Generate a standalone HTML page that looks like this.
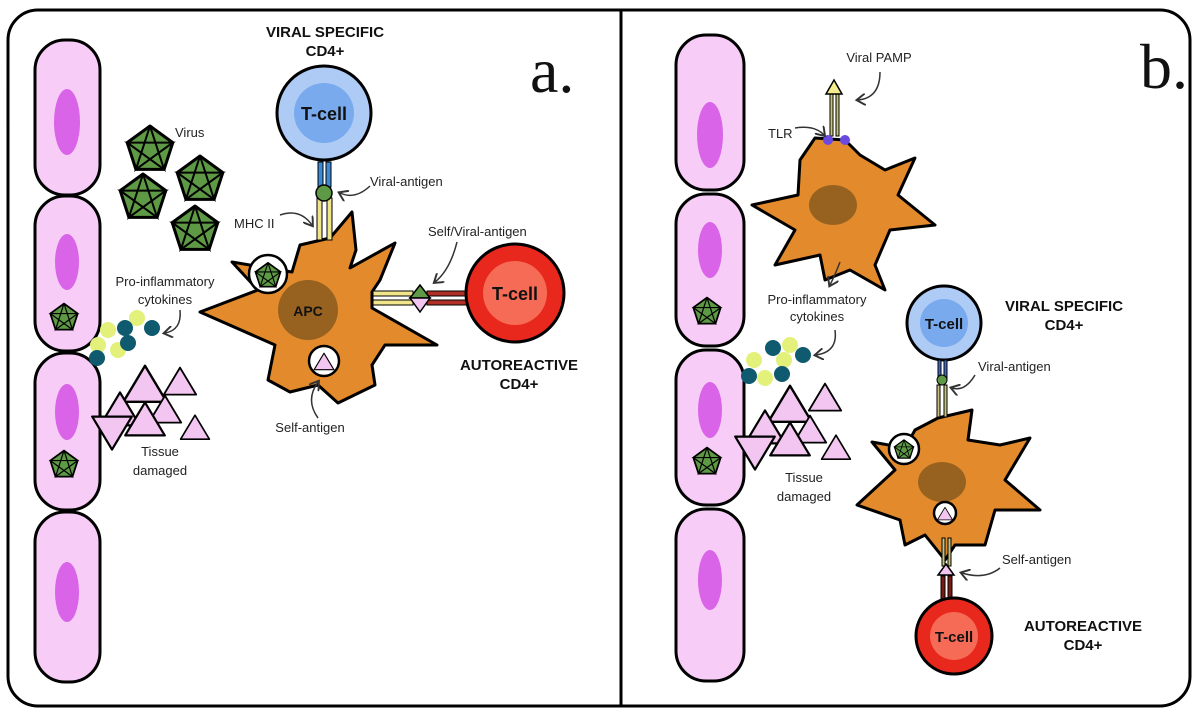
<!DOCTYPE html>
<html><head><meta charset="utf-8"><style>
html,body{margin:0;padding:0;background:#fff}
svg{display:block}
text{font-family:"Liberation Sans",sans-serif;fill:#222}
.lb{font-size:13px}
.bd{font-size:15px;font-weight:bold;fill:#111}
</style></head><body>
<svg width="1200" height="716" viewBox="0 0 1200 716" xmlns="http://www.w3.org/2000/svg">
<defs>
<g id="vir"><polygon points="0,-24 22.8,-7.4 14.1,19.4 -14.1,19.4 -22.8,-7.4" fill="#5e9a45" stroke="#000" stroke-width="3" stroke-linejoin="round"/>
<polyline points="0,-24 14.1,19.4 -22.8,-7.4 22.8,-7.4 -14.1,19.4 0,-24" fill="none" stroke="#000" stroke-width="2"/></g>
<polygon id="tri" points="0,-16 18,14 -18,14" fill="#f2c6f0" stroke="#000" stroke-width="2" stroke-linejoin="round"/>
<marker id="ah" markerWidth="8" markerHeight="8" refX="5" refY="4" orient="auto"><path d="M0,0 L6,4 L0,8" fill="none" stroke="#333" stroke-width="1.3"/></marker>
</defs>
<rect x="8" y="10" width="1182" height="696" rx="30" fill="#fff" stroke="#000" stroke-width="3"/>
<line x1="621" y1="10" x2="621" y2="706" stroke="#000" stroke-width="3"/>

<!-- panel a cells -->
<g fill="#f7cdf7" stroke="#000" stroke-width="3">
<rect x="35" y="40" width="65" height="155" rx="30"/>
<rect x="35" y="196" width="65" height="155" rx="30"/>
<rect x="35" y="353" width="65" height="157" rx="30"/>
<rect x="35" y="512" width="65" height="170" rx="30"/>
</g>
<g fill="#d964e8">
<ellipse cx="67" cy="122" rx="13" ry="33"/><ellipse cx="67" cy="262" rx="12" ry="28"/>
<ellipse cx="67" cy="412" rx="12" ry="28"/><ellipse cx="67" cy="592" rx="12" ry="30"/>
</g>
<use href="#vir" transform="translate(64,318) scale(0.6)"/>
<use href="#vir" transform="translate(64,465) scale(0.6)"/>
<!-- viruses -->
<use href="#vir" transform="translate(150,150)"/>
<use href="#vir" transform="translate(200,180)"/>
<use href="#vir" transform="translate(143,198)"/>
<use href="#vir" transform="translate(195,230)"/>
<text class="lb" x="175" y="137">Virus</text>

<!-- APC a -->
<polygon points="300,245 330,238 352,212 356,250 350,268 395,243 380,280 372,292 372,308 437,345 385,345 372,365 375,385 338,403 318,385 290,392 268,380 275,345 200,312 258,290 232,262 292,272" fill="#e38b2c" stroke="#000" stroke-width="3" stroke-linejoin="round"/>
<circle cx="308" cy="310" r="30" fill="#8a5a1f" opacity="0.85"/>
<text x="308" y="316" text-anchor="middle" style="font-size:14px;font-weight:bold;fill:#111">APC</text>
<circle cx="268" cy="274" r="19" fill="#fff" stroke="#000" stroke-width="2.5"/>
<use href="#vir" transform="translate(268,276) scale(0.55)"/>
<circle cx="324" cy="361" r="15" fill="#fff" stroke="#000" stroke-width="2.5"/>
<use href="#tri" transform="translate(324,362) scale(0.55)"/>

<!-- TCR a top -->
<rect x="318" y="162" width="5" height="25" fill="#3a8ad8" stroke="#000" stroke-width="1"/>
<rect x="326" y="162" width="5" height="25" fill="#3a8ad8" stroke="#000" stroke-width="1"/>
<rect x="317" y="198" width="5" height="42" fill="#f0e58a" stroke="#000" stroke-width="1"/>
<rect x="327" y="198" width="5" height="42" fill="#f0e58a" stroke="#000" stroke-width="1"/>
<circle cx="324" cy="193" r="8" fill="#5e9a45" stroke="#000" stroke-width="1.5"/>
<circle cx="324" cy="113" r="47" fill="#aecbf5" stroke="#000" stroke-width="3"/>
<circle cx="324" cy="113" r="30" fill="#7aaaee"/>
<text x="324" y="120" text-anchor="middle" style="font-size:18px;font-weight:bold;fill:#111">T-cell</text>
<text class="bd" x="325" y="37" text-anchor="middle">VIRAL SPECIFIC</text>
<text class="bd" x="325" y="56" text-anchor="middle">CD4+</text>
<text x="530" y="92" style="font-family:'Liberation Serif',serif;font-size:64px;fill:#111">a.</text>
<text class="lb" x="370" y="186">Viral-antigen</text>
<path d="M370,186 Q355,200 340,193" fill="none" stroke="#333" stroke-width="1.5" marker-end="url(#ah)"/>
<text class="lb" x="234" y="228">MHC II</text>
<path d="M280,215 Q300,208 312,225" fill="none" stroke="#333" stroke-width="1.5" marker-end="url(#ah)"/>

<!-- right MHC a -->
<rect x="373" y="291" width="40" height="5" fill="#f0e58a" stroke="#000" stroke-width="1"/>
<rect x="373" y="300" width="40" height="5" fill="#f0e58a" stroke="#000" stroke-width="1"/>
<rect x="427" y="291" width="45" height="5" fill="#b03028" stroke="#000" stroke-width="1"/>
<rect x="427" y="300" width="45" height="5" fill="#b03028" stroke="#000" stroke-width="1"/>
<polygon points="420,285 430,298 410,298" fill="#5e9a45" stroke="#000" stroke-width="1.5"/>
<polygon points="410,298 430,298 420,312" fill="#f2c6f0" stroke="#000" stroke-width="1.5"/>
<circle cx="515" cy="293" r="49" fill="#e8281c" stroke="#000" stroke-width="3"/>
<circle cx="515" cy="293" r="32" fill="#f66b55"/>
<text x="515" y="300" text-anchor="middle" style="font-size:18px;font-weight:bold;fill:#111">T-cell</text>
<text class="lb" x="428" y="236">Self/Viral-antigen</text>
<path d="M457,242 Q450,270 435,282" fill="none" stroke="#333" stroke-width="1.5" marker-end="url(#ah)"/>
<text class="bd" x="519" y="370" text-anchor="middle">AUTOREACTIVE</text>
<text class="bd" x="519" y="389" text-anchor="middle">CD4+</text>

<!-- cytokines a -->
<g stroke="none">
<circle cx="137" cy="318" r="8" fill="#e3f07a"/><circle cx="108" cy="330" r="8" fill="#e3f07a"/>
<circle cx="118" cy="350" r="8" fill="#e3f07a"/><circle cx="98" cy="345" r="8" fill="#e3f07a"/>
<circle cx="125" cy="328" r="8" fill="#0f5a6e"/><circle cx="152" cy="328" r="8" fill="#0f5a6e"/>
<circle cx="128" cy="343" r="8" fill="#0f5a6e"/><circle cx="97" cy="358" r="8" fill="#0f5a6e"/>
</g>
<text class="lb" x="165" y="286" text-anchor="middle">Pro-inflammatory</text>
<text class="lb" x="165" y="304" text-anchor="middle">cytokines</text>
<path d="M180,310 Q182,330 165,333" fill="none" stroke="#333" stroke-width="1.5" marker-end="url(#ah)"/>
<!-- triangles a -->
<use href="#tri" transform="translate(145,385) scale(1.2)"/>
<use href="#tri" transform="translate(180,382) scale(0.9)"/>
<use href="#tri" transform="translate(120,410) scale(1.1)"/>
<use href="#tri" transform="translate(165,410) scale(0.9)"/>
<use href="#tri" transform="translate(145,420) scale(1.1)"/>
<use href="#tri" transform="translate(195,428) scale(0.8)"/>
<use href="#tri" transform="translate(112,432) scale(1.1) rotate(180)"/>
<text class="lb" x="160" y="456" text-anchor="middle">Tissue</text>
<text class="lb" x="160" y="475" text-anchor="middle">damaged</text>
<text class="lb" x="310" y="432" text-anchor="middle">Self-antigen</text>
<path d="M318,418 Q305,400 318,382" fill="none" stroke="#333" stroke-width="1.5" marker-end="url(#ah)"/>

<!-- panel b cells -->
<g fill="#f7cdf7" stroke="#000" stroke-width="3">
<rect x="676" y="35" width="68" height="155" rx="30"/>
<rect x="676" y="194" width="68" height="152" rx="30"/>
<rect x="676" y="350" width="68" height="155" rx="30"/>
<rect x="676" y="509" width="68" height="172" rx="30"/>
</g>
<g fill="#d964e8">
<ellipse cx="710" cy="135" rx="13" ry="33"/><ellipse cx="710" cy="250" rx="12" ry="28"/>
<ellipse cx="710" cy="410" rx="12" ry="28"/><ellipse cx="710" cy="580" rx="12" ry="30"/>
</g>
<use href="#vir" transform="translate(707,312) scale(0.6)"/>
<use href="#vir" transform="translate(707,462) scale(0.6)"/>

<!-- APC b1 -->
<polygon points="800,160 815,138 845,140 860,155 885,170 915,158 898,195 935,225 890,230 875,265 885,290 850,270 825,280 820,255 775,265 795,230 752,205 798,195" fill="#e38b2c" stroke="#000" stroke-width="3" stroke-linejoin="round"/>
<ellipse cx="833" cy="205" rx="24" ry="20" fill="#8a5a1f" opacity="0.85"/>
<rect x="830" y="92" width="3" height="44" fill="#c9c27a" stroke="#000" stroke-width="1"/>
<rect x="836" y="92" width="3" height="44" fill="#c9c27a" stroke="#000" stroke-width="1"/>
<polygon points="834,80 842,94 826,94" fill="#f5ec90" stroke="#000" stroke-width="1.5"/>
<circle cx="828" cy="140" r="5" fill="#6a4ae0"/><circle cx="845" cy="140" r="5" fill="#6a4ae0"/>
<text class="lb" x="879" y="62" text-anchor="middle">Viral PAMP</text>
<path d="M880,72 Q880,98 858,100" fill="none" stroke="#333" stroke-width="1.5" marker-end="url(#ah)"/>
<text class="lb" x="768" y="138">TLR</text>
<path d="M795,128 Q815,125 824,135" fill="none" stroke="#333" stroke-width="1.5" marker-end="url(#ah)"/>
<text class="lb" x="817" y="304" text-anchor="middle">Pro-inflammatory</text>
<text class="lb" x="817" y="321" text-anchor="middle">cytokines</text>
<path d="M840,262 Q835,275 830,285" fill="none" stroke="#333" stroke-width="1.5" marker-end="url(#ah)"/>
<path d="M835,330 Q838,352 816,355" fill="none" stroke="#333" stroke-width="1.5" marker-end="url(#ah)"/>
<g>
<circle cx="790" cy="345" r="8" fill="#e3f07a"/><circle cx="754" cy="360" r="8" fill="#e3f07a"/>
<circle cx="765" cy="378" r="8" fill="#e3f07a"/><circle cx="784" cy="360" r="8" fill="#e3f07a"/>
<circle cx="773" cy="348" r="8" fill="#0f5a6e"/><circle cx="803" cy="355" r="8" fill="#0f5a6e"/>
<circle cx="782" cy="374" r="8" fill="#0f5a6e"/><circle cx="749" cy="376" r="8" fill="#0f5a6e"/>
</g>
<use href="#tri" transform="translate(790,405) scale(1.2)"/>
<use href="#tri" transform="translate(825,398) scale(0.9)"/>
<use href="#tri" transform="translate(765,428) scale(1.1)"/>
<use href="#tri" transform="translate(810,430) scale(0.9)"/>
<use href="#tri" transform="translate(790,440) scale(1.1)"/>
<use href="#tri" transform="translate(836,448) scale(0.8)"/>
<use href="#tri" transform="translate(755,452) scale(1.1) rotate(180)"/>
<text class="lb" x="804" y="482" text-anchor="middle">Tissue</text>
<text class="lb" x="804" y="501" text-anchor="middle">damaged</text>

<!-- APC b2 -->
<polygon points="915,430 938,418 972,410 968,440 1000,445 1030,438 1005,480 1040,510 995,510 985,545 955,545 945,560 925,535 905,545 900,520 857,505 895,470 872,442 905,448" fill="#e38b2c" stroke="#000" stroke-width="3" stroke-linejoin="round"/>
<ellipse cx="942" cy="482" rx="24" ry="20" fill="#8a5a1f" opacity="0.85"/>
<circle cx="904" cy="449" r="15" fill="#fff" stroke="#000" stroke-width="2.5"/>
<use href="#vir" transform="translate(904,450) scale(0.42)"/>
<circle cx="945" cy="513" r="11" fill="#fff" stroke="#000" stroke-width="2.5"/>
<use href="#tri" transform="translate(945,514) scale(0.42)"/>
<!-- TCR b top -->
<circle cx="944" cy="323" r="37" fill="#aecbf5" stroke="#000" stroke-width="3"/>
<circle cx="944" cy="323" r="24" fill="#7aaaee"/>
<text x="944" y="329" text-anchor="middle" style="font-size:15px;font-weight:bold;fill:#111">T-cell</text>
<rect x="938" y="360" width="3" height="20" fill="#3a6ac8" stroke="#000" stroke-width="1"/>
<rect x="944" y="360" width="3" height="20" fill="#3a6ac8" stroke="#000" stroke-width="1"/>
<circle cx="942" cy="380" r="5" fill="#5e9a45" stroke="#000" stroke-width="1"/>
<rect x="937" y="385" width="3" height="32" fill="#c9c27a" stroke="#000" stroke-width="1"/>
<rect x="944" y="385" width="3" height="32" fill="#c9c27a" stroke="#000" stroke-width="1"/>
<text class="bd" x="1064" y="311" text-anchor="middle">VIRAL SPECIFIC</text>
<text class="bd" x="1064" y="330" text-anchor="middle">CD4+</text>
<text class="lb" x="978" y="371">Viral-antigen</text>
<path d="M975,375 Q965,392 952,388" fill="none" stroke="#333" stroke-width="1.5" marker-end="url(#ah)"/>
<!-- bottom b -->
<rect x="942" y="538" width="3" height="28" fill="#c9c27a" stroke="#000" stroke-width="1"/>
<rect x="948" y="538" width="3" height="28" fill="#c9c27a" stroke="#000" stroke-width="1"/>
<polygon points="946,564 954,575 938,575" fill="#f2c6f0" stroke="#000" stroke-width="1.5"/>
<rect x="941" y="576" width="4" height="24" fill="#7a1a14" stroke="#000" stroke-width="1"/>
<rect x="948" y="576" width="4" height="24" fill="#7a1a14" stroke="#000" stroke-width="1"/>
<circle cx="954" cy="636" r="38" fill="#e8281c" stroke="#000" stroke-width="3"/>
<circle cx="954" cy="636" r="24" fill="#f66b55"/>
<text x="954" y="642" text-anchor="middle" style="font-size:15px;font-weight:bold;fill:#111">T-cell</text>
<text class="lb" x="1002" y="564">Self-antigen</text>
<path d="M1000,568 Q985,580 962,573" fill="none" stroke="#333" stroke-width="1.5" marker-end="url(#ah)"/>
<text class="bd" x="1083" y="631" text-anchor="middle">AUTOREACTIVE</text>
<text class="bd" x="1083" y="650" text-anchor="middle">CD4+</text>
<text x="1140" y="88" style="font-family:'Liberation Serif',serif;font-size:64px;fill:#111">b.</text>
</svg>
</body></html>
